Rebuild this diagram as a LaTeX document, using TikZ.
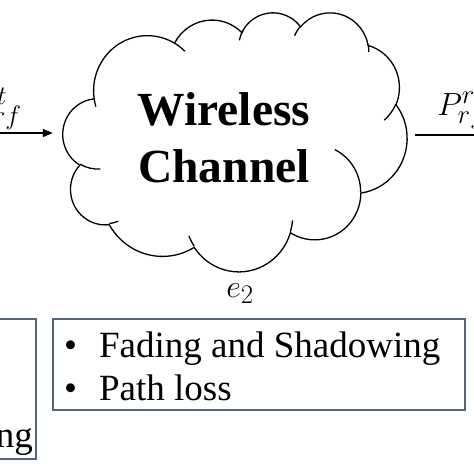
\documentclass[tikz,border=0pt]{standalone}
\usepackage{fontspec}
\setmainfont{Liberation Serif}
\usetikzlibrary{
  arrows.meta,
  positioning
}
\definecolor{boxblue}{HTML}{56657C}
\tikzset{
  x=1pt, y=-1pt,
  arr/.style={-{Triangle[length=10pt,width=8pt]}, line width=1.4pt},
  infobox/.style={draw=boxblue, line width=1.3pt, fill=white, inner sep=0pt},
  itemtext/.style={font=\fontsize{37}{43}\selectfont, inner sep=0pt},
  title/.style={font=\fontsize{47.5}{57}\selectfont\bfseries, inner sep=0pt},
  mathlbl/.style={font=\fontsize{24.88}{30}\selectfont, scale=1.29, inner sep=0pt},
  % one puff of the cloud: radii, start angle, sweep (angles as seen on the page)
  puff/.style n args={4}{insert path={arc[x radius=#1, y radius=#2,
      start angle={atan2(#1*sin(#3),#2*cos(#3))},
      delta angle={mod(atan2(#1*sin(#3+#4),#2*cos(#3+#4))-atan2(#1*sin(#3),#2*cos(#3))+720,360)}]}}
}
\newcommand{\bull}{\makebox[35pt][l]{\textbullet}}

\begin{document}
\begin{tikzpicture}
    \useasboundingbox (0,0) rectangle (474,474);
    % the channel
    \node[minimum width=344pt, minimum height=259pt, inner sep=0pt] (cloud) at (235,141.5) {};
    \begin{scope}[shift={(63,12)}, x=0.7963pt, y=-0.5995pt, line width=1.3pt]
      \draw (39.00,143.70)
        [puff={67.53}{91.90}{-190.4875}{123.7805}]
        [puff={53.33}{72.67}{-144.1024}{89.9452}]
        [puff={43.65}{59.45}{-145.8079}{99.7230}]
        [puff={48.57}{65.95}{-130.9861}{117.2417}]
        [puff={53.33}{72.73}{-78.7089}{109.0269}]
        [puff={67.75}{92.20}{-46.2673}{130.2690}]
        [puff={57.85}{78.67}{0.6250}{114.0333}]
        [puff={67.52}{92.15}{22.4516}{115.1726}]
        [puff={77.20}{105.43}{66.2426}{75.7110}]
        [puff={43.60}{59.18}{-274.9421}{146.7356}]
        [puff={43.45}{59.45}{-246.8285}{152.5189}] -- cycle;
      \draw (46.93,261.77) [puff={43.45}{59.45}{86.7420}{26.4295}]
        (69.28,348.99) [puff={43.60}{59.18}{73.6105}{11.4475}]
        (164.78,390.90) [puff={67.52}{92.15}{137.6242}{14.0811}]
        (288.27,347.51) [puff={67.52}{92.15}{6.4533}{15.9984}]
        (341.29,229.54) [puff={57.85}{78.67}{-70.2924}{70.9174}]
        (417.98,153.54) [puff={53.33}{72.73}{30.3180}{27.7515}]
        (383.24,54.26) [puff={48.57}{65.95}{-13.7443}{14.8589}]
        (290.78,39.52) [puff={48.57}{65.95}{-149.1815}{18.1954}]
        (221.41,47.20) [puff={43.65}{59.45}{-163.4943}{22.2434}]
        (140.00,51.92) [puff={67.53}{91.90}{-66.7070}{12.3194}]
        (41.27,157.89) [puff={67.53}{91.90}{-202.35}{11.86}];
    \end{scope}
    \node[title, anchor=base] (wl) at (224,125) {Wireless};
    \node[title, anchor=base] (ch) at (224,182) {Channel};
    % power in and out
    \coordinate (src) at (-10,133);
    \coordinate (dst) at (500,135);
    \draw[arr, shorten >=10pt] (src) -- (src -| cloud.west);
    \draw[arr, shorten <=8pt] (dst -| cloud.east) -- (dst);
    \node[mathlbl, anchor=base east] (pin) at (22,116) {$P^{t}_{rf}$};
    \node[mathlbl, anchor=base west] (pout) at (437,115) {$P^{r}_{rf}$};
    \node[mathlbl, anchor=base west] (e2) at (226,297) {$e_2$};
    % loss boxes
    \node[infobox, minimum width=80pt, minimum height=140pt] (left) at (-4,389) {};
    \node[itemtext, anchor=base east] (harv) at (33,447) {Harvesting};
    \node[infobox, minimum width=412pt, minimum height=91pt] (loss) at (259,364.5) {};
    \node[itemtext, anchor=base west] (fade) at (64,357) {\bull Fading and Shadowing};
    \node[itemtext, anchor=base west] (path) at (64,400) {\bull Path loss};
\end{tikzpicture}
\end{document}
